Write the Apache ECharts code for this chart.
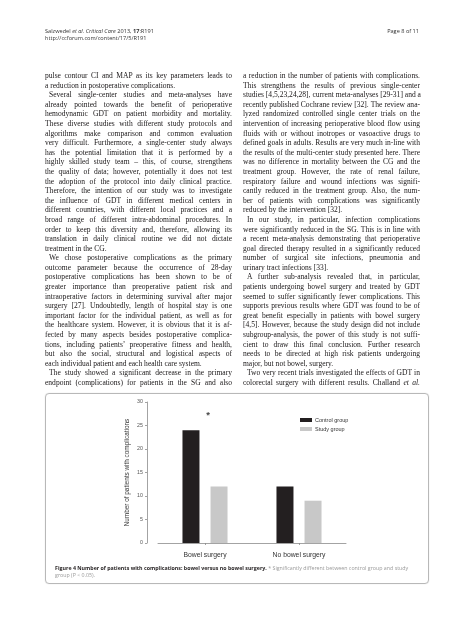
<!DOCTYPE html>
<html>
<head>
<meta charset="utf-8">
<script src="https://cdn.jsdelivr.net/npm/echarts@6/dist/echarts.min.js"></script>
<style>
html,body{margin:0;padding:0;background:#fff;}
#page{position:relative;width:474px;height:632px;overflow:hidden;background:#fff;}
#chart{position:absolute;left:0;top:0;width:474px;height:632px;}
.hdr{position:absolute;font-family:"Open Sans","DejaVu Sans",sans-serif;font-size:5.6px;color:#333;line-height:6.5px;white-space:nowrap;}
.col{position:absolute;top:71px;width:187px;font-family:"Liberation Serif","DejaVu Serif",serif;font-size:7.55px;color:#1a1718;}
.ln{height:9.6px;line-height:9.6px;white-space:nowrap;text-align:justify;text-align-last:justify;overflow:visible;}
.ln.last{text-align:left;text-align-last:left;}
.ln.ind{padding-left:4px;}
#box{position:absolute;left:45px;top:393px;width:382px;height:189px;border:1px solid #b8b8b8;border-radius:4px;box-shadow:0 0 1px #ccc;}
#cap{position:absolute;left:55px;top:565px;width:372px;font-family:"Open Sans","DejaVu Sans",sans-serif;font-size:5.3px;line-height:7px;color:#999;white-space:nowrap;}
#cap b{color:#231f20;font-weight:700;}
</style>
</head>
<body>
<div id="page">
<div id="box"></div>
<div id="chart"></div>
<div class="hdr" style="left:45px;top:28px;">Salzwedel <i>et al. Critical Care</i> 2013, <b>17</b>:R191</div>
<div class="hdr" style="left:45px;top:35px;">http://ccforum.com/content/17/5/R191</div>
<div class="hdr" style="right:55px;top:28px;">Page 8 of 11</div>
<div class="col" id="c1" style="left:45px;"></div>
<div class="col" id="c2" style="left:243px;width:177px;"></div>
<div id="cap"><b>Figure 4 Number of patients with complications: bowel versus no bowel surgery.</b> * Significantly different between control group and study<br>group (P &lt; 0.05).</div>
</div>
<script>
// ---- chart data ----
var categories = ['Bowel surgery', 'No bowel surgery'];
var controlGroup = [24, 12];
var studyGroup = [12, 9];
var yTicks = {min: 0, max: 30, interval: 5};
var seriesNames = ['Control group', 'Study group'];
var significanceCategory = ['Bowel surgery'];
var significanceValue = [27.6];
var significanceMark = '*';
var yAxisTitle = 'Number of patients with complications';

// ---- page text ----
var col1Lines = [
 ['pulse contour CI and MAP as its key parameters leads to',''],
 ['a reduction in postoperative complications.','last'],
 ['Several single-center studies and meta-analyses have','ind'],
 ['already pointed towards the benefit of perioperative',''],
 ['hemodynamic GDT on patient morbidity and mortality.',''],
 ['These diverse studies with different study protocols and',''],
 ['algorithms make comparison and common evaluation',''],
 ['very difficult. Furthermore, a single-center study always',''],
 ['has the potential limitation that it is performed by a',''],
 ['highly skilled study team \u2013 this, of course, strengthens',''],
 ['the quality of data; however, potentially it does not test',''],
 ['the adoption of the protocol into daily clinical practice.',''],
 ['Therefore, the intention of our study was to investigate',''],
 ['the influence of GDT in different medical centers in',''],
 ['different countries, with different local practices and a',''],
 ['broad range of different intra-abdominal procedures. In',''],
 ['order to keep this diversity and, therefore, allowing its',''],
 ['translation in daily clinical routine we did not dictate',''],
 ['treatment in the CG.','last'],
 ['We chose postoperative complications as the primary','ind'],
 ['outcome parameter because the occurrence of 28-day',''],
 ['postoperative complications has been shown to be of',''],
 ['greater importance than preoperative patient risk and',''],
 ['intraoperative factors in determining survival after major',''],
 ['surgery [27]. Undoubtedly, length of hospital stay is one',''],
 ['important factor for the individual patient, as well as for',''],
 ['the healthcare system. However, it is obvious that it is af-',''],
 ['fected by many aspects besides postoperative complica-',''],
 ['tions, including patients\u2019 preoperative fitness and health,',''],
 ['but also the social, structural and logistical aspects of',''],
 ['each individual patient and each health care system.','last'],
 ['The study showed a significant decrease in the primary','ind'],
 ['endpoint (complications) for patients in the SG and also','']
];
var col2Lines = [
 ['a reduction in the number of patients with complications.',''],
 ['This strengthens the results of previous single-center',''],
 ['studies [4,5,23,24,28], current meta-analyses [29-31] and a',''],
 ['recently published Cochrane review [32]. The review ana-',''],
 ['lyzed randomized controlled single center trials on the',''],
 ['intervention of increasing perioperative blood flow using',''],
 ['fluids with or without inotropes or vasoactive drugs to',''],
 ['defined goals in adults. Results are very much in-line with',''],
 ['the results of the multi-center study presented here. There',''],
 ['was no difference in mortality between the CG and the',''],
 ['treatment group. However, the rate of renal failure,',''],
 ['respiratory failure and wound infections was signifi-',''],
 ['cantly reduced in the treatment group. Also, the num-',''],
 ['ber of patients with complications was significantly',''],
 ['reduced by the intervention [32].','last'],
 ['In our study, in particular, infection complications','ind'],
 ['were significantly reduced in the SG. This is in line with',''],
 ['a recent meta-analysis demonstrating that perioperative',''],
 ['goal directed therapy resulted in a significantly reduced',''],
 ['number of surgical site infections, pneumonia and',''],
 ['urinary tract infections [33].','last'],
 ['A further sub-analysis revealed that, in particular,','ind'],
 ['patients undergoing bowel surgery and treated by GDT',''],
 ['seemed to suffer significantly fewer complications. This',''],
 ['supports previous results where GDT was found to be of',''],
 ['great benefit especially in patients with bowel surgery',''],
 ['[4,5]. However, because the study design did not include',''],
 ['subgroup-analysis, the power of this study is not suffi-',''],
 ['cient to draw this final conclusion. Further research',''],
 ['needs to be directed at high risk patients undergoing',''],
 ['major, but not bowel, surgery.','last'],
 ['Two very recent trials investigated the effects of GDT in','ind'],
 ['colorectal surgery with different results. Challand <i>et al.</i>','']
];
function fill(id, lines){
  var el = document.getElementById(id);
  lines.forEach(function(l){
    var d = document.createElement('div');
    d.className = 'ln ' + l[1];
    d.innerHTML = l[0];
    el.appendChild(d);
  });
}
fill('c1', col1Lines);
fill('c2', col2Lines);

var chart = echarts.init(document.getElementById('chart'), null, {renderer: 'canvas'});
var axisColor = '#8c8c8c';
chart.setOption({
  animation: false,
  textStyle: {fontFamily: 'Liberation Sans, Arial, sans-serif'},
  legend: {
    orient: 'vertical', left: 295, top: 412,
    itemWidth: 12, itemHeight: 4, itemGap: 3,
    icon: 'rect',
    textStyle: {fontSize: 5.5, color: '#333', padding: [0,0,0,-2]},
    data: seriesNames
  },
  grid: {left: 158, width: 188, top: 402, height: 141},
  xAxis: {
    type: 'category', data: categories, offset: 4,
    axisLine: {lineStyle: {color: axisColor, width: 0.8}},
    axisTick: {show: true, alignWithLabel: true, length: 2, lineStyle: {color: axisColor, width: 0.8}},
    axisLabel: {fontSize: 6.8, color: '#333', margin: 5}
  },
  yAxis: {
    type: 'value', min: yTicks.min, max: yTicks.max, interval: yTicks.interval, offset: 11,
    name: yAxisTitle, nameLocation: 'middle', nameGap: 17, nameRotate: 90,
    nameTextStyle: {fontSize: 6.4, color: '#333'},
    axisLine: {show: true, lineStyle: {color: axisColor, width: 0.8}},
    axisTick: {show: true, length: 2, lineStyle: {color: axisColor, width: 0.8}},
    axisLabel: {fontSize: 5.3, color: '#555', margin: 4},
    splitLine: {show: false}
  },
  series: [
    {name: seriesNames[0], type: 'bar', data: controlGroup, barWidth: 17, barGap: '65%',
     itemStyle: {color: '#231f20'}},
    {name: seriesNames[1], type: 'bar', data: studyGroup, barWidth: 17,
     itemStyle: {color: '#c8c8c8'}},
    {name: 'significance', type: 'scatter', symbolSize: 0, silent: true,
     data: significanceCategory.map(function(c, i){ return [c, significanceValue[i]]; }),
     label: {show: true, position: 'inside', formatter: significanceMark, fontSize: 9.5, fontWeight: 'bold', color: '#111', offset: [3, 2]}}
  ]
});
</script>
</body>
</html>
